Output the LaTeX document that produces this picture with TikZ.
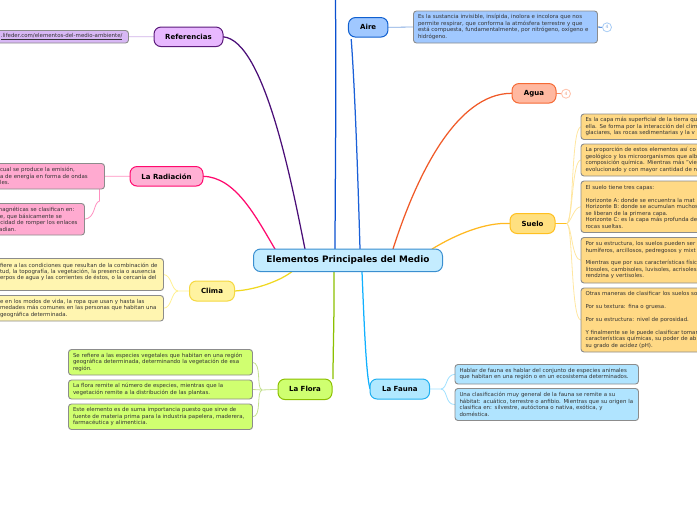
\documentclass[tikz,border=0pt]{standalone}
\usepackage{fontspec}
\setmainfont{DejaVu Sans}
\usetikzlibrary{backgrounds}
\definecolor{txtc}{HTML}{333333}
\definecolor{boxb}{HTML}{8C8C8C}
\definecolor{cenF}{HTML}{C4ECFF}\definecolor{cenD}{HTML}{3A8FD0}
\definecolor{refF}{HTML}{E8B8FF}\definecolor{refD}{HTML}{5A1A7A}\definecolor{refL}{HTML}{4B0F78}\definecolor{refS}{HTML}{D0B0E8}\definecolor{refB}{HTML}{D8B8F5}
\definecolor{radF}{HTML}{FFB0D4}\definecolor{radD}{HTML}{FF0A6E}\definecolor{radS}{HTML}{FF90C0}\definecolor{radB}{HTML}{FFAAD0}
\definecolor{cliF}{HTML}{FFF3A0}\definecolor{cliD}{HTML}{F5D840}\definecolor{cliL}{HTML}{F0D820}\definecolor{cliS}{HTML}{FFF090}\definecolor{cliB}{HTML}{FFF5B0}
\definecolor{floF}{HTML}{CFFF70}\definecolor{floD}{HTML}{8CC000}\definecolor{floS}{HTML}{C4E090}\definecolor{floB}{HTML}{D0FF70}
\definecolor{fauF}{HTML}{B0E8FF}\definecolor{fauD}{HTML}{20B0F0}\definecolor{fauL}{HTML}{10B0FF}\definecolor{fauS}{HTML}{A0E0FF}\definecolor{fauB}{HTML}{B0E4FF}
\definecolor{sueF}{HTML}{FFE080}\definecolor{sueD}{HTML}{FFC020}\definecolor{sueL}{HTML}{FFB820}\definecolor{sueS}{HTML}{FFE6A0}\definecolor{sueB}{HTML}{FFD985}
\definecolor{aguF}{HTML}{FFB8A0}\definecolor{aguD}{HTML}{F56A35}\definecolor{aguL}{HTML}{F05A28}\definecolor{aguS}{HTML}{F88860}\definecolor{aguM}{HTML}{FFC0A8}\definecolor{aguT}{HTML}{F0A080}
\definecolor{airF}{HTML}{A0C8FF}\definecolor{airD}{HTML}{1060D0}\definecolor{airL}{HTML}{1A60D8}\definecolor{airS}{HTML}{80A8E0}\definecolor{airM}{HTML}{A8CCF5}\definecolor{airT}{HTML}{7FA8DD}
\definecolor{topL}{HTML}{0A50D0}
\tikzset{
  x=1pt,y=-1pt,
  topic/.style={draw,line width=1pt,rounded corners=7pt,inner sep=0pt,outer sep=0pt,font=\fontsize{7}{8}\bfseries,text=black},
  infobox/.style={draw=boxb,line width=0.9pt,rounded corners=3pt,inner xsep=4.5pt,inner ysep=0pt,outer sep=0pt,align=left,font=\fontsize{5.45}{6.45}\selectfont,text=txtc},
  mainline/.style={line width=1.25pt},
  subline/.style={line width=0.8pt},
  marker/.style={circle,draw,fill=white,line width=0.8pt,minimum size=9pt,inner sep=0pt,font=\fontsize{4.5}{5}\selectfont}
}
\newcommand\bx[7]{\pgfmathsetlengthmacro\bxtw{(#4-(#2)-9)*1pt}\node[infobox,fill=#6,text width=\bxtw,minimum height={(#5-#3)*1pt}] (#1) at ({(#2+#4)/2},{(#3+#5)/2}) {#7};}
\begin{document}
\begin{tikzpicture}
\useasboundingbox (0,0) rectangle (697,520);
% topics
\node[topic,fill=cenF,draw=cenD,minimum width=189pt,minimum height=22.5pt,font=\fontsize{8.9}{10}\bfseries] (centre) at (348,260.3) {Elementos Principales del Medio};
\node[topic,fill=refF,draw=refD,minimum width=69pt,minimum height=19.5pt] (ref) at (188.5,36.8) {Referencias};
\node[topic,fill=radF,draw=radD,minimum width=73pt,minimum height=19.5pt] (rad) at (166.5,176.3) {La Radiación};
\node[topic,fill=cliF,draw=cliD,minimum width=45pt,minimum height=20pt] (clima) at (212,291) {Clima};
\node[topic,fill=floF,draw=floD,minimum width=54pt,minimum height=20.5pt] (flora) at (305,389.3) {La Flora};
\node[topic,fill=fauF,draw=fauD,minimum width=59.5pt,minimum height=20pt] (fauna) at (399.8,389) {La Fauna};
\node[topic,fill=sueF,draw=sueD,minimum width=45pt,minimum height=20pt] (suelo) at (532.5,223.5) {Suelo};
\node[topic,fill=aguF,draw=aguD,minimum width=44pt,minimum height=19.5pt] (agua) at (534,93.3) {Agua};
\node[topic,fill=airF,draw=airD,minimum width=39.5pt,minimum height=19.5pt] (aire) at (368.2,27.3) {Aire};
% info boxes
\bx{link}{-3.5}{30.5}{128.5}{43}{refB}{\underline{.lifeder.com/elementos-del-medio-ambiente/}}
\bx{radA}{-4.5}{163.5}{104.5}{189}{radB}{cual se produce la emisión,\\a de energía en forma de ondas\\les.}
\bx{radBb}{-7.5}{203.5}{84.5}{235}{radB}{magnéticas se clasifican en:\\ce, que básicamente se\\\mbox{acidad de romper los enlaces}\\radian.}
\bx{cliA}{-4.5}{258.5}{163.5}{290.5}{cliB}{fiere a las condiciones que resultan de la combinación de\\tud, la topografía, la vegetación, la presencia o ausencia\\erpos de agua y las corrientes de éstos, o la cercanía del\\\mbox{}}
\bx{cliBb}{-4.5}{295.5}{163.5}{321}{cliB}{e en los modos de vida, la ropa que usan y hasta las\\medades más comunes en las personas que habitan una\\geográfica determinada.}
\bx{floA}{68.5}{349.5}{252.5}{375}{floB}{Se refiere a las especies vegetales que habitan en una región\\geográfica determinada, determinando la vegetación de esa\\región.}
\bx{floBb}{68.5}{380}{252.5}{399}{floB}{La flora remite al número de especies, mientras que la\\vegetación remite a la distribución de las plantas.}
\bx{floC}{68.5}{404}{252.5}{429.5}{floB}{Este elemento es de suma importancia puesto que sirve de\\fuente de materia prima para la industria papelera, maderera,\\farmacéutica y alimenticia.}
\bx{fauA}{455}{364.5}{638.5}{384}{fauB}{Hablar de fauna es hablar del conjunto de especies animales\\que habitan en una región o en un ecosistema determinados.}
\bx{fauBb}{455}{388.5}{638.5}{420.5}{fauB}{Una clasificación muy general de la fauna se remite a su\\hábitat: acuático, terrestre o anfibio. Mientras que su origen la\\clasifica en: silvestre, autóctona o nativa, exótica, y\\doméstica.}
\bx{aireA}{413.5}{11}{597.5}{43}{airF}{Es la sustancia invisible, insípida, inolora e incolora que nos\\permite respirar, que conforma la atmósfera terrestre y que\\está compuesta, fundamentalmente, por nitrógeno, oxígeno e\\hidrógeno.}
\bx{suA}{581}{114}{730}{139.5}{sueB}{Es la capa más superficial de la tierra qu\\ella. Se forma por la interacción del clim\\glaciares, las rocas sedimentarias y la v}
\bx{suB}{581}{144}{730}{176}{sueB}{La proporción de estos elementos así co\\geológico y los microorganismos que alb\\composición química. Mientras más "viej\\evolucionado y con mayor cantidad de n}
\bx{suC}{581}{181}{730}{232.5}{sueB}{El suelo tiene tres capas:\\\mbox{}\\Horizonte A: donde se encuentra la mat\\Horizonte B: donde se acumulan muchos\\se liberan de la primera capa.\\Horizonte C: es la capa más profunda de\\rocas sueltas.}
\bx{suD}{581}{237.5}{730}{283}{sueB}{Por su estructura, los suelos pueden ser\\humíferos, arcillosos, pedregosos y mixt\\\mbox{}\\Mientras que por sus características físic\\litosoles, cambisoles, luvisoles, acrisoles\\rendzina y vertisoles.}
\bx{suE}{581}{288}{730}{352}{sueB}{Otras maneras de clasificar los suelos so\\\mbox{}\\Por su textura: fina o gruesa.\\\mbox{}\\Por su estructura: nivel de porosidad.\\\mbox{}\\Y finalmente se le puede clasificar tomar\\características químicas, su poder de ab\\su grado de acidez (pH).}
% collapse markers
\node[marker,draw=airM,text=airT] (mkAire) at (607,27.3) {4};
\node[marker,draw=aguM,text=aguT] (mkAgua) at (566,93.7) {4};
\coordinate (offtop) at (335.3,-12);
\begin{scope}[on background layer]
% main branches
\draw[mainline,draw=topL] ([xshift=-13pt]centre.north) .. controls (335.3,160) and (336.5,80) .. (offtop);
\draw[mainline,draw=refL] (ref.east) .. controls (265,40) and (293,190) .. ([xshift=-43pt]centre.north);
\draw[mainline,draw=radD] (rad.east) .. controls (235,177) and (255,215) .. ([xshift=-73pt]centre.north);
\draw[mainline,draw=cliL] (clima.east) .. controls (255,290) and (280,281) .. ([xshift=-56pt]centre.south);
\draw[mainline,draw=floD] ([xshift=-14pt]centre.south) .. controls (334.5,310) and (333,350) .. ([xshift=28pt]flora.north);
\draw[mainline,draw=fauL] ([xshift=14pt]centre.south) .. controls (364,320) and (366,375) .. (fauna.west);
\draw[mainline,draw=sueL] (suelo.west) .. controls (485,222) and (455,235) .. ([xshift=84pt]centre.north);
\draw[mainline,draw=aguL] (agua.west) .. controls (455,93) and (415,180) .. ([xshift=45pt]centre.north);
\draw[mainline,draw=airL] ([xshift=-17pt,yshift=-2pt]aire.south) .. controls (355,90) and (358,180) .. ([xshift=12pt]centre.north);
% sub branches
\draw[subline,draw=refS] (ref.west) -- (link.east);
\draw[subline,draw=radS] (rad.west) -- (radA.east);
\draw[subline,draw=radS] (99.5,176.3) -- (99.5,201) .. controls (93,203) and (96,218) .. (radBb.east);
\draw[subline,draw=cliS] (clima.west) -- (178,291) .. controls (171,290) and (172,275) .. (cliA.east);
\draw[subline,draw=cliS] (178,291) .. controls (171,292) and (172,308) .. (cliBb.east);
\draw[subline,draw=floS] (flora.west) -- (262,390) .. controls (256,388) and (262,363) .. (floA.east);
\draw[subline,draw=floS] (262,390) -- (floBb.east);
\draw[subline,draw=floS] (262,390) .. controls (256,392) and (262,417) .. (floC.east);
\draw[subline,draw=fauS] (fauna.east) -- (441,389) .. controls (448,388) and (445,375) .. (fauA.west);
\draw[subline,draw=fauS] (441,389) .. controls (448,390) and (445,405) .. (fauBb.west);
\draw[subline,draw=sueD] (suelo.east) -- (567,223.5);
\draw[subline,draw=sueS] (567,223.5) .. controls (574,218) and (571,128) .. (suA.west);
\draw[subline,draw=sueS] (567,223.5) .. controls (573,218) and (572,160) .. (suB.west);
\draw[subline,draw=sueS] (567,223.5) .. controls (572,220) and (574,207) .. (suC.west);
\draw[subline,draw=sueS] (567,223.5) .. controls (572,228) and (572,260) .. (suD.west);
\draw[subline,draw=sueS] (567,223.5) .. controls (573,228) and (571,320) .. (suE.west);
\draw[subline,draw=airS] (aire.east) -- (aireA.west);
\draw[subline,draw=airD] (aireA.east) -- (mkAire.west);
\draw[subline,draw=aguS] (agua.east) -- (mkAgua.west);
\end{scope}
\end{tikzpicture}
\end{document}
